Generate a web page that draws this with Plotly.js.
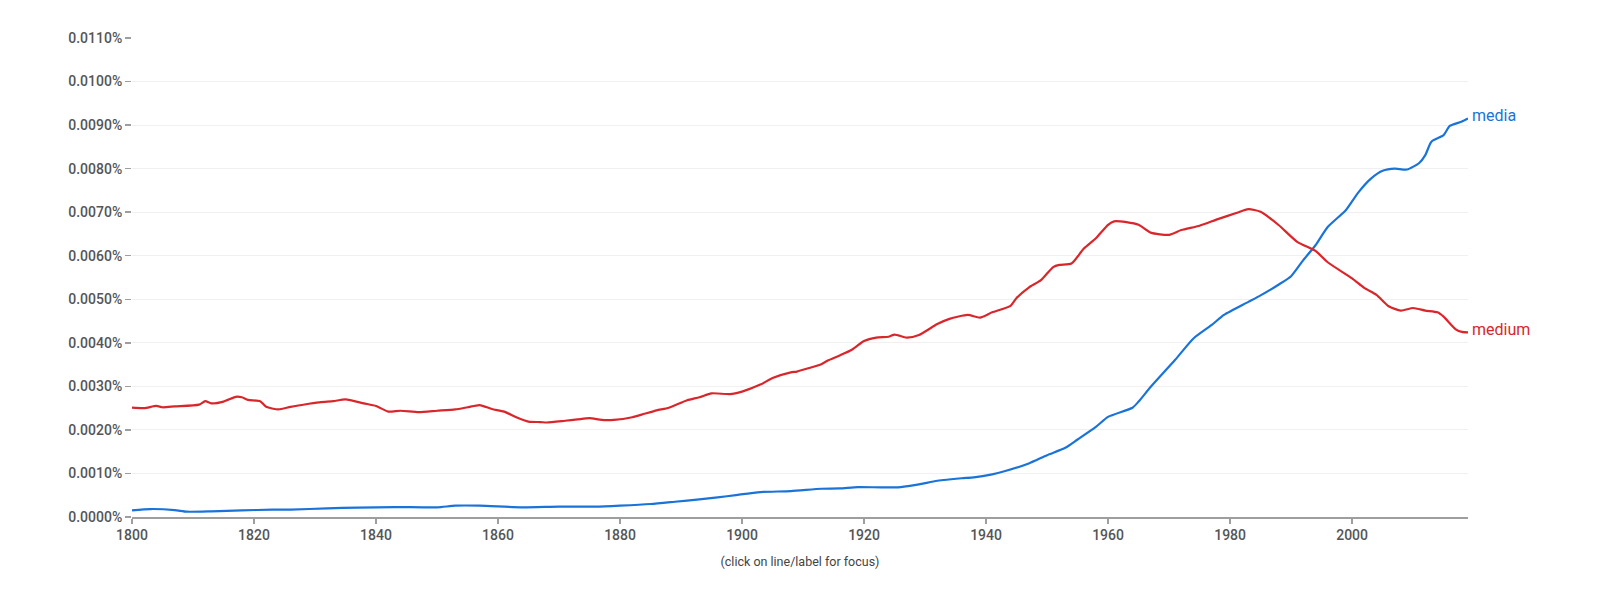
<!DOCTYPE html>
<html>
<head>
<meta charset="utf-8">
<script src="https://cdn.plot.ly/plotly-3.0.1.min.js"></script>
<style>
  html, body { margin: 0; padding: 0; background: #fff; }
  #chart { width: 1600px; height: 610px; }
</style>
</head>
<body>
<div id="chart"></div>
<script>
// Values are in percent (0.0025 => 0.0025%)
const mediumYears = [1800,1802,1804,1805,1807,1811,1812,1813,1815,1817,1818,1819,1821,1822,1824,1826,1829,1831,1833,1835,1838,1840,1842,1844,1847,1850,1853,1855,1857,1859,1861,1863,1865,1867,1868,1871,1873,1875,1877,1879,1882,1884,1886,1888,1891,1893,1895,1898,1900,1903,1905,1908,1909,1911,1913,1914,1916,1918,1920,1922,1924,1925,1927,1929,1932,1934,1937,1939,1941,1944,1945,1947,1949,1951,1952,1954,1956,1958,1960,1961,1963,1965,1967,1970,1972,1975,1978,1981,1983,1985,1988,1991,1994,1996,2000,2002,2004,2006,2008,2010,2012,2014,2015,2017,2018,2019];
const mediumValues = [0.00251,0.00250,0.00255,0.00252,0.00254,0.00258,0.00266,0.00261,0.00265,0.00276,0.00275,0.00269,0.00266,0.00253,0.00247,0.00253,0.00260,0.00264,0.00266,0.00270,0.00261,0.00255,0.00242,0.00244,0.00241,0.00244,0.00247,0.00252,0.00257,0.00248,0.00242,0.00229,0.00219,0.00218,0.00217,0.00221,0.00224,0.00227,0.00223,0.00223,0.00229,0.00237,0.00245,0.00251,0.00268,0.00275,0.00284,0.00282,0.00288,0.00304,0.00319,0.00332,0.00334,0.00342,0.00351,0.00359,0.00371,0.00384,0.00404,0.00412,0.00414,0.00419,0.00412,0.00418,0.00443,0.00455,0.00464,0.00458,0.00470,0.00485,0.00503,0.00527,0.00544,0.00574,0.00579,0.00582,0.00616,0.00640,0.00671,0.00679,0.00677,0.00671,0.00653,0.00648,0.00659,0.00669,0.00684,0.00698,0.00707,0.00701,0.00670,0.00632,0.00611,0.00585,0.00548,0.00526,0.00510,0.00484,0.00474,0.00480,0.00474,0.00470,0.00460,0.00431,0.00425,0.00424];

const mediaYears = [1800,1803,1807,1809,1813,1818,1823,1826,1832,1837,1843,1850,1853,1857,1864,1870,1876,1880,1885,1889,1893,1896,1899,1903,1908,1913,1916,1919,1923,1926,1929,1932,1936,1938,1941,1943,1947,1950,1953,1955,1958,1960,1964,1965,1967,1971,1974,1977,1979,1983,1985,1988,1990,1992,1994,1996,1999,2001,2003,2005,2007,2009,2011,2012,2013,2015,2016,2018,2019];
const mediaValues = [0.000153,0.000183,0.000160,0.000122,0.000130,0.000153,0.000168,0.000168,0.000200,0.000214,0.000229,0.000221,0.000260,0.000260,0.000221,0.000240,0.000237,0.000260,0.000298,0.000351,0.000405,0.000450,0.000504,0.000573,0.000595,0.000649,0.000656,0.000687,0.000679,0.000687,0.000748,0.000832,0.000890,0.000910,0.000980,0.00105,0.00123,0.00142,0.00159,0.00178,0.00207,0.00230,0.00251,0.00265,0.00299,0.00361,0.00410,0.00441,0.00464,0.00494,0.00509,0.00534,0.00553,0.00590,0.00624,0.00666,0.00705,0.00745,0.00776,0.00795,0.00800,0.00798,0.00813,0.00831,0.00862,0.00877,0.00898,0.00908,0.00915];

const seriesNames = ['media', 'medium'];
const seriesColors = ['#1a73d8', '#d9262b'];
const yTickValues = [0,0.001,0.002,0.003,0.004,0.005,0.006,0.007,0.008,0.009,0.010,0.011];
const xTickValues = [1800,1820,1840,1860,1880,1900,1920,1940,1960,1980,2000];

const traces = [
  {x: mediaYears, y: mediaValues, name: seriesNames[0], type: 'scatter', mode: 'lines',
   line: {color: seriesColors[0], width: 2.2, shape: 'spline', smoothing: 0.6}, hoverinfo: 'skip'},
  {x: mediumYears, y: mediumValues, name: seriesNames[1], type: 'scatter', mode: 'lines',
   line: {color: seriesColors[1], width: 2.2, shape: 'spline', smoothing: 0.6}, hoverinfo: 'skip'}
];

const layout = {
  width: 1600, height: 610,
  margin: {l: 132, r: 132, t: 38, b: 93},
  paper_bgcolor: '#ffffff', plot_bgcolor: '#ffffff',
  showlegend: false,
  font: {family: 'Roboto, "Open Sans", sans-serif', color: '#5f6368', size: 14},
  xaxis: {
    range: [1800, 2019], tickvals: xTickValues, ticktext: xTickValues.map(String),
    showgrid: false, zeroline: false, showline: true, linecolor: '#9e9e9e', linewidth: 1.5,
    ticks: 'outside', ticklen: 5, tickcolor: '#9e9e9e', tickwidth: 1.5,
    tickfont: {size: 14, color: '#555555', weight: 500},
    title: {text: '(click on line/label for focus)', font: {size: 12.5, color: '#444'}, standoff: 15}
  },
  yaxis: {
    range: [0, 0.011], tickvals: yTickValues,
    ticktext: yTickValues.map(v => v.toFixed(4) + '%'),
    showgrid: true, gridcolor: '#f0f0f0', gridwidth: 1, zeroline: false, showline: false,
    ticks: 'outside', ticklen: 6, tickcolor: '#9e9e9e', tickwidth: 1.5,
    tickfont: {size: 14, color: '#555555', weight: 500}
  },
  annotations: [
    {x: mediaYears[mediaYears.length-1], y: mediaValues[mediaValues.length-1], xref: 'x', yref: 'y',
     text: seriesNames[0], showarrow: false, xanchor: 'left', yanchor: 'middle', xshift: 2, yshift: 3,
     font: {size: 16, color: seriesColors[0]}},
    {x: mediumYears[mediumYears.length-1], y: mediumValues[mediumValues.length-1], xref: 'x', yref: 'y',
     text: seriesNames[1], showarrow: false, xanchor: 'left', yanchor: 'middle', xshift: 2, yshift: 3,
     font: {size: 16, color: seriesColors[1]}}
  ]
};

Plotly.newPlot('chart', traces, layout, {displayModeBar: false, staticPlot: true});
</script>
</body>
</html>
